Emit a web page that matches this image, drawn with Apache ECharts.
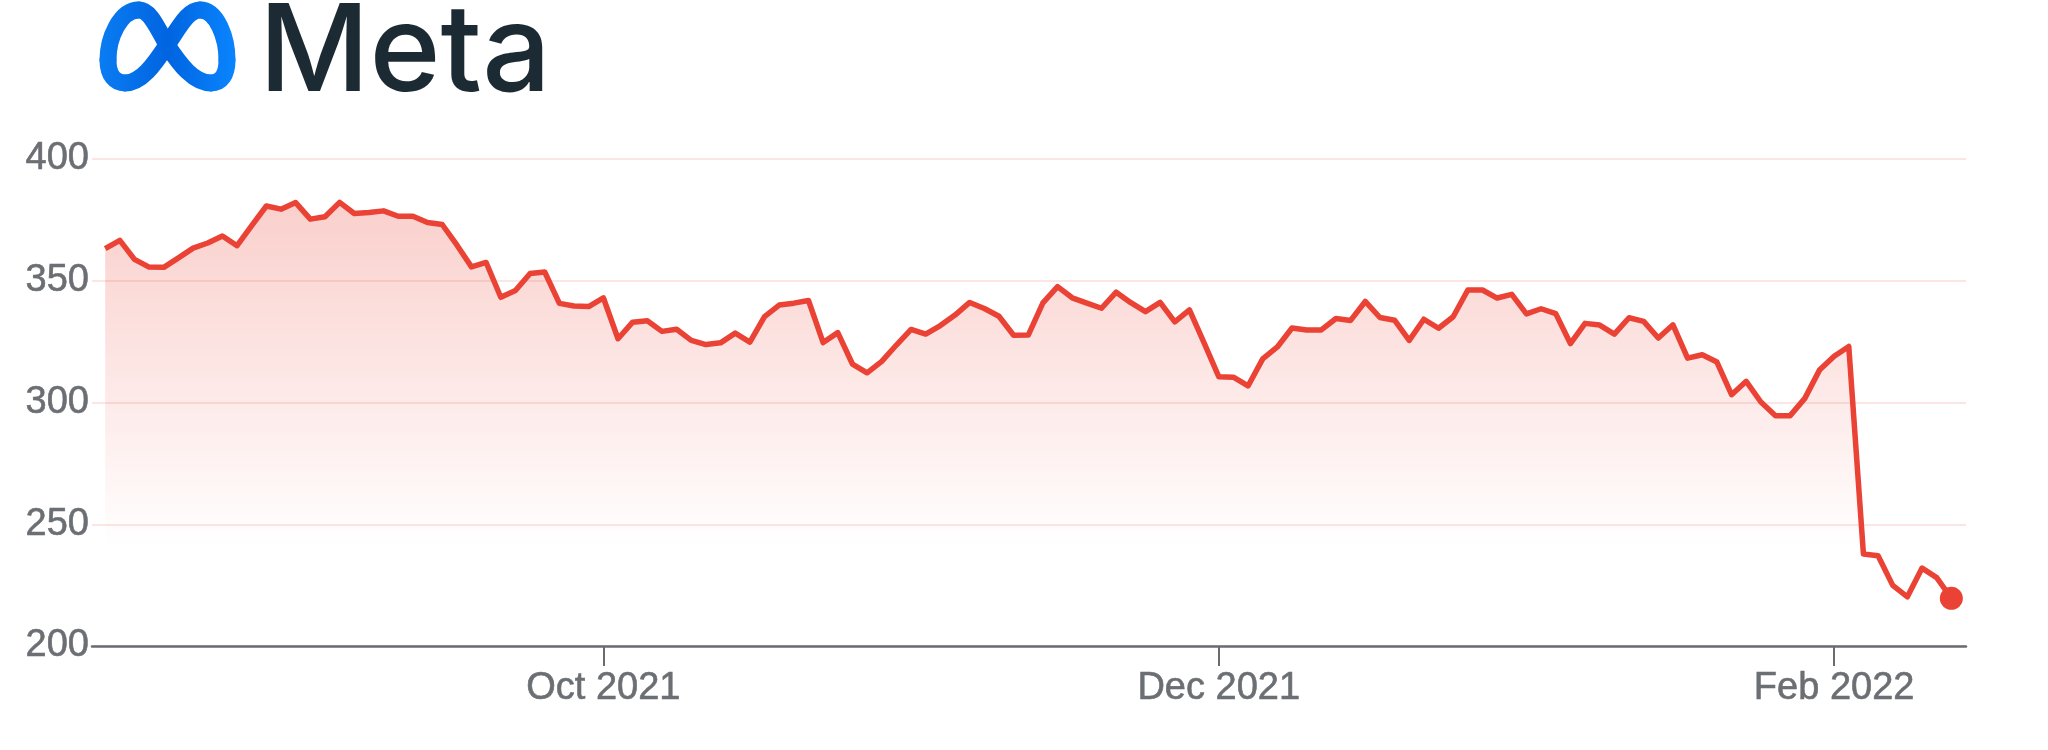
<!DOCTYPE html>
<html><head><meta charset="utf-8">
<script src="https://cdn.jsdelivr.net/npm/echarts@6/dist/echarts.min.js"></script>
<style>html,body{margin:0;padding:0;background:#fff;}#chart{width:2048px;height:750px;}</style>
</head><body><div id="chart"></div>
<script>
// Trading days shown on the chart
const dates = [
'2021-08-13','2021-08-16','2021-08-17','2021-08-18','2021-08-19','2021-08-20','2021-08-23','2021-08-24','2021-08-25','2021-08-26','2021-08-27','2021-08-30','2021-08-31',
'2021-09-01','2021-09-02','2021-09-03','2021-09-07','2021-09-08','2021-09-09','2021-09-10','2021-09-13','2021-09-14','2021-09-15','2021-09-16','2021-09-17','2021-09-20','2021-09-21','2021-09-22','2021-09-23','2021-09-24','2021-09-27','2021-09-28','2021-09-29','2021-09-30',
'2021-10-01','2021-10-04','2021-10-05','2021-10-06','2021-10-07','2021-10-08','2021-10-11','2021-10-12','2021-10-13','2021-10-14','2021-10-15','2021-10-18','2021-10-19','2021-10-20','2021-10-21','2021-10-22','2021-10-25','2021-10-26','2021-10-27','2021-10-28','2021-10-29',
'2021-11-01','2021-11-02','2021-11-03','2021-11-04','2021-11-05','2021-11-08','2021-11-09','2021-11-10','2021-11-11','2021-11-12','2021-11-15','2021-11-16','2021-11-17','2021-11-18','2021-11-19','2021-11-22','2021-11-23','2021-11-24','2021-11-26','2021-11-29','2021-11-30',
'2021-12-01','2021-12-02','2021-12-03','2021-12-06','2021-12-07','2021-12-08','2021-12-09','2021-12-10','2021-12-13','2021-12-14','2021-12-15','2021-12-16','2021-12-17','2021-12-20','2021-12-21','2021-12-22','2021-12-23','2021-12-27','2021-12-28','2021-12-29','2021-12-30','2021-12-31',
'2022-01-03','2022-01-04','2022-01-05','2022-01-06','2022-01-07','2022-01-10','2022-01-11','2022-01-12','2022-01-13','2022-01-14','2022-01-18','2022-01-19','2022-01-20','2022-01-21','2022-01-24','2022-01-25','2022-01-26','2022-01-27','2022-01-28','2022-01-31',
'2022-02-01','2022-02-02','2022-02-03','2022-02-04','2022-02-07','2022-02-08','2022-02-09','2022-02-10','2022-02-11'
];
// Closing prices
const prices = [
363.2,366.6,358.8,355.6,355.5,359.4,363.4,365.5,368.4,364.4,372.6,380.7,379.4,
382.1,375.3,376.3,382.2,377.6,378.0,378.7,376.5,376.5,373.9,373.1,364.7,355.7,357.5,343.2,346.0,353.0,353.6,340.7,339.6,339.4,
343.0,326.2,333.0,333.6,329.2,330.1,325.5,323.8,324.5,328.5,324.8,335.3,340.0,340.8,341.9,324.6,328.7,315.8,312.2,316.9,323.6,
330.0,328.1,331.6,335.9,341.1,338.6,335.4,327.6,327.7,340.9,347.6,343.0,340.8,338.7,345.3,341.0,337.3,341.1,333.1,338.0,324.5,
310.6,310.4,306.8,317.9,322.8,330.6,329.8,329.8,334.5,333.7,341.5,334.9,333.8,325.5,334.2,330.5,335.2,346.2,346.2,342.9,344.4,336.4,
338.5,336.5,324.2,332.5,331.8,328.1,334.8,333.3,326.5,331.9,318.2,319.6,316.6,303.2,308.7,300.2,294.6,294.6,301.7,313.3,
319.0,323.0,237.8,237.1,224.9,220.2,232.0,228.1,219.6
];
const tickDates = ['2021-10-01','2021-12-01','2022-02-01'];
const tickLabels = ['Oct 2021','Dec 2021','Feb 2022'];
const yMin = 200, yMax = 400, yStep = 50;
const logoText = 'Meta';

const chart = echarts.init(document.getElementById('chart'), null, {renderer:'canvas'});
const seriesData = prices.map((v, i) => [i, v]);
const tickIdx = tickDates.map(d => dates.indexOf(d));
const lastPoint = seriesData[seriesData.length - 1];
const gray = '#6b6f73';
const red = '#ea4335';
const labelFont = '"Liberation Sans", Arial, Helvetica, sans-serif';

// Logo (infinity mark) drawn as stroked bezier segments
const logoStroke = new echarts.graphic.LinearGradient(100, 0, 236, 0, [
  {offset: 0, color: '#0a7cf2'}, {offset: 0.5, color: '#0064e0'}, {offset: 1, color: '#0a85ff'}
], true);
const logoCurves = [
  [167,45, 157,27, 150,10, 139,10],
  [139,10, 120,10, 108,38, 108,60],
  [108,60, 108,75, 115,83, 125,83],
  [125,83, 141,83, 154,65, 167,45],
  [167,45, 180,26, 188,10, 200,10],
  [200,10, 217,10, 227,38, 227,60],
  [227,60, 227,75, 221,83, 211,83],
  [211,83, 194,83, 180,65, 167,45]
];
const logoElements = logoCurves.map(c => ({
  type: 'bezierCurve',
  shape: {x1: c[0], y1: c[1], cpx1: c[2], cpy1: c[3], cpx2: c[4], cpy2: c[5], x2: c[6], y2: c[7]},
  style: {fill: null, stroke: logoStroke, lineWidth: 17, lineCap: 'round'}
}));

const labelCommon = {
  fontSize: 38, fontFamily: labelFont, color: gray,
  textBorderColor: gray, textBorderWidth: 0.6
};

const option = {
  animation: false,
  backgroundColor: '#ffffff',
  grid: {left: 92, right: 82, top: 159, bottom: 104},
  xAxis: {
    type: 'value',
    min: -0.9,
    max: dates.length,
    axisLine: {show: true, lineStyle: {color: '#696c70', width: 2.5}},
    axisTick: {show: true, customValues: tickIdx, length: 20, lineStyle: {color: '#696c70', width: 2}},
    axisLabel: Object.assign({
      show: true, customValues: tickIdx, margin: 24,
      formatter: v => { const k = tickIdx.indexOf(Math.round(v)); return k >= 0 ? tickLabels[k] : ''; }
    }, labelCommon),
    splitLine: {show: false}
  },
  yAxis: {
    type: 'value', min: yMin, max: yMax, interval: yStep,
    axisLine: {show: false}, axisTick: {show: false},
    axisLabel: Object.assign({margin: 3, padding: [5, 0, 0, 0]}, labelCommon),
    splitLine: {show: true, lineStyle: {color: '#fbe6e4', width: 2}}
  },
  graphic: logoElements.concat([
    {
      type: 'text', x: 259, y: 55,
      style: {
        text: logoText, fontSize: 121, fontWeight: 500, fontFamily: 'Inter, "Open Sans", sans-serif',
        fill: '#1c2b33', align: 'left', verticalAlign: 'middle', textAlign: 'left', textVerticalAlign: 'middle'
      }
    }
  ]),
  series: [
    {
      type: 'line', data: seriesData, showSymbol: false, z: 3,
      lineStyle: {color: red, width: 5.5, join: 'round'},
      areaStyle: {
        color: new echarts.graphic.LinearGradient(0, 0, 0, 1, [
          {offset: 0, color: 'rgba(234,67,53,0.36)'},
          {offset: 0.78, color: 'rgba(234,67,53,0.0)'},
          {offset: 1, color: 'rgba(234,67,53,0.0)'}
        ])
      }
    },
    {
      type: 'scatter', data: [lastPoint], symbol: 'circle', symbolSize: 23, z: 4,
      itemStyle: {color: red, opacity: 1}
    }
  ]
};
chart.setOption(option);
</script></body></html>
